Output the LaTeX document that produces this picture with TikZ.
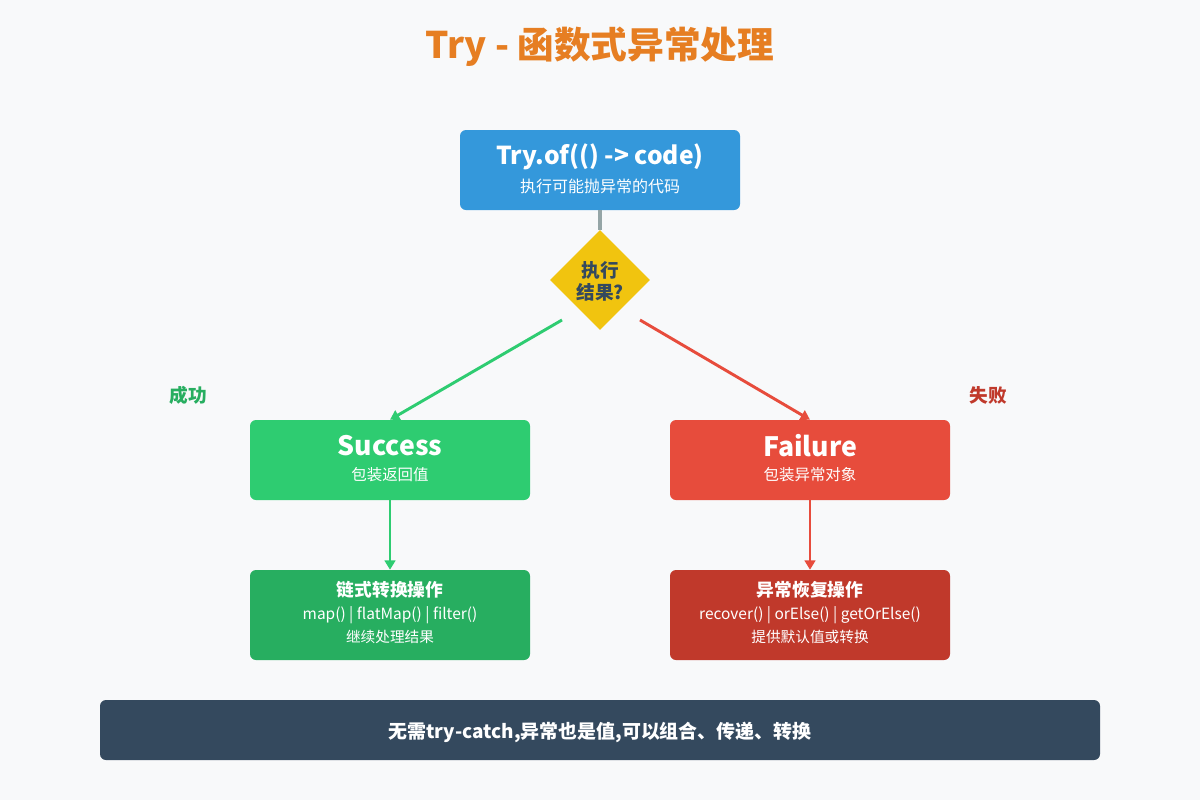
\documentclass[tikz,border=0pt]{standalone}
\usepackage{fontspec}
\setmainfont{Noto Sans CJK SC}
\usetikzlibrary{shapes.geometric,arrows.meta}
\definecolor{bg}{HTML}{F8F9FA}
\definecolor{orangeT}{HTML}{E67E22}
\definecolor{blueB}{HTML}{3498DB}
\definecolor{yellowD}{HTML}{F1C40F}
\definecolor{greenL}{HTML}{2ECC71}
\definecolor{greenD}{HTML}{27AE60}
\definecolor{redL}{HTML}{E74C3C}
\definecolor{redD}{HTML}{C0392B}
\definecolor{navy}{HTML}{34495E}
\definecolor{grayC}{HTML}{95A5A6}
\tikzset{
  box/.style={rounded corners=4.5pt, minimum width=210pt, minimum height=60pt, inner sep=0pt, text=white, align=center},
  conn/.style={line width=2.4pt},
  arr/.style={line width=2.2pt, -{Triangle[length=7pt,width=8pt]}},
  lab/.style={font=\bfseries\fontsize{14}{16}\selectfont},
  body/.style={text=white, font=\fontsize{11.6}{13}\selectfont},
}
\begin{document}
\begin{tikzpicture}[x=0.75pt,y=-0.75pt]
\fill[bg] (0,0) rectangle (1200,800);
\useasboundingbox (0,0) rectangle (1200,800);
\node[text=orangeT, font=\bfseries\fontsize{27.5}{32}\selectfont] (title) at (600,47) {Try - 函数式异常处理};

\node[box, fill=blueB] (try) at (600,170) {};
\node[text=white, font=\bfseries\fontsize{18.5}{22}\selectfont] (tryt) at (600,157) {Try.of(() -> code)};
\node[body, font=\fontsize{12}{14}\selectfont] (trys) at (600,186) {执行可能抛异常的代码};

\node[diamond, fill=yellowD, minimum width=75pt, minimum height=75pt, inner sep=0pt] (dec) at (600,280) {};
\node[text=navy, font=\bfseries\fontsize{14}{16.5}\selectfont, align=center] (dect) at (600,281) {执行\\结果?};
\draw[conn, grayC] (try.south) -- (dec.north);

\node[box, fill=greenL] (succ) at (390,460) {};
\node[text=white, font=\bfseries\fontsize{20}{24}\selectfont] (succt) at (390,446) {Success};
\node[body] (succs) at (390,475) {包装返回值};

\node[box, fill=redL] (fail) at (810,460) {};
\node[text=white, font=\bfseries\fontsize{20}{24}\selectfont] (failt) at (810,446) {Failure};
\node[body] (fails) at (810,475) {包装异常对象};

\coordinate (gs) at (562,320);
\coordinate (rs) at (640,320);
\draw[arr, greenL] (gs) -- (succ.north);
\draw[arr, redL] (rs) -- (fail.north);

\node[lab, text=greenD] (ok) at (188,395) {成功};
\node[lab, text=redD] (ko) at (988,395) {失败};

\node[box, fill=greenD, minimum height=67.5pt] (chain) at (390,615) {};
\node[text=white, font=\bfseries\fontsize{13.3}{15}\selectfont] (chaint) at (390,590) {链式转换操作};
\node[body] (chains) at (390,615) {map() | flatMap() | filter()};
\node[body, font=\fontsize{11}{13}\selectfont] (chainu) at (390,637) {继续处理结果};

\node[box, fill=redD, minimum height=67.5pt] (rec) at (810,615) {};
\node[text=white, font=\bfseries\fontsize{13.3}{15}\selectfont] (rect) at (810,590) {异常恢复操作};
\node[body] (recs) at (810,615) {recover() | orElse() | getOrElse()};
\node[body, font=\fontsize{11}{13}\selectfont] (recu) at (810,637) {提供默认值或转换};

\draw[arr, greenL] (succ.south) -- (chain.north);
\draw[arr, redL] (fail.south) -- (rec.north);

\node[rounded corners=4.5pt, fill=navy, minimum width=750pt, minimum height=45pt, inner sep=0pt] (bar) at (600,730) {};
\node[text=white, font=\bfseries\fontsize{14.2}{17}\selectfont] (bart) at (600,732) {无需try-catch,异常也是值,可以组合、传递、转换};
\end{tikzpicture}
\end{document}
